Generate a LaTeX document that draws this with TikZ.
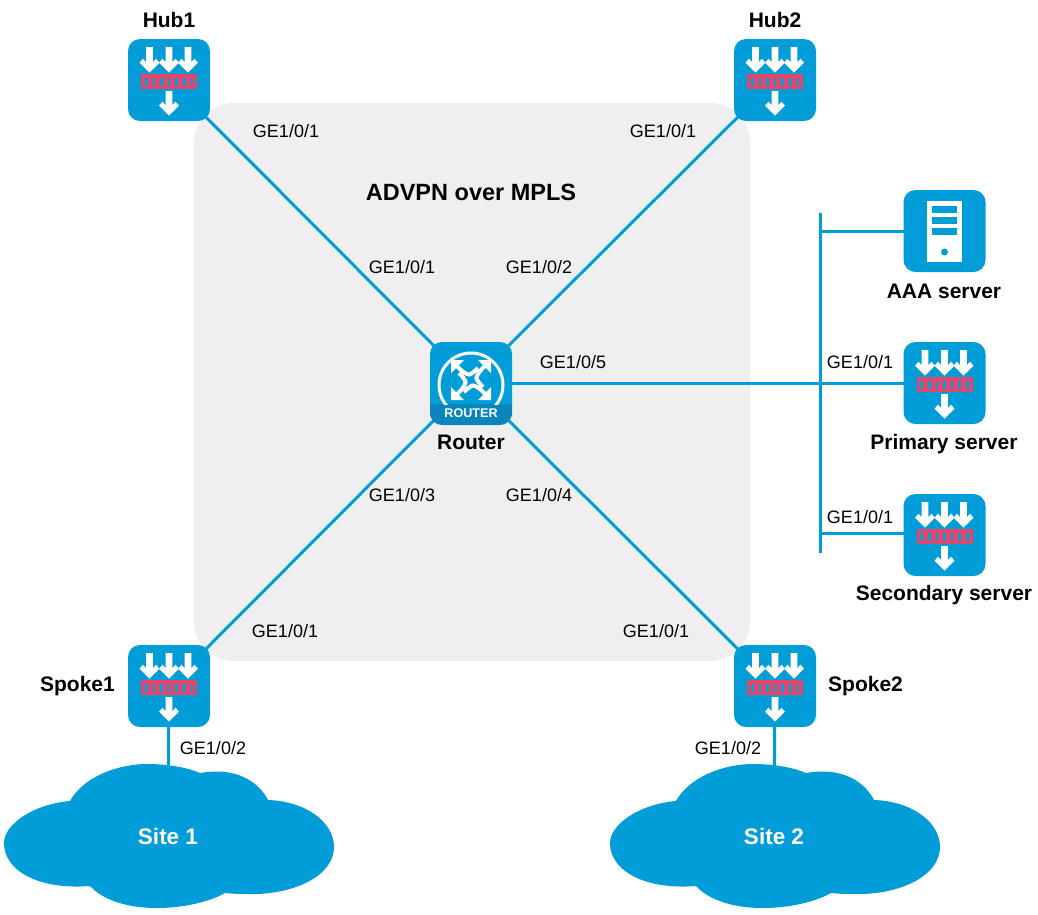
\documentclass[tikz,border=0pt]{standalone}
\usepackage{fontspec}
\setmainfont{Liberation Sans}
\usetikzlibrary{backgrounds}
\definecolor{iconblue}{HTML}{009DD9}
\definecolor{banddark}{HTML}{0A86BD}
\definecolor{barred}{HTML}{E4456A}
\definecolor{areagray}{HTML}{EFEFEF}
\tikzset{
    pics/downarrow/.style = {code = {
        \fill[white] (-3.4,#1) -- (3.4,#1) -- (3.4,-10.5) -- (6.5,-14) -- (10,-10) -- (0,0)
                     -- (-10,-10) -- (-6.5,-14) -- (-3.4,-10.5) -- cycle;
    }},
    pics/firewall/.style = {code = {
        \foreach \x in {-19.5,0,19}
            \pic at (\x,-7.3) {downarrow = -25.7};
        \pic at (0,35.7) {downarrow = -24.7};
        \fill[barred] (-28,-6) rectangle (28,9);
        \foreach \x in {-3,...,3}
            \fill[iconblue] (\x*7.6-1.3,-2.5) rectangle (\x*7.6+1.3,6);
    }},
    pics/server/.style = {code = {
        \fill[white] (-17.5,-30) rectangle (17.5,31);
        \foreach \y in {-25,-14,-3}
            \fill[iconblue] (-12.5,\y) rectangle (12.5,\y+6.5);
        \fill[iconblue] (0,21) circle (3.5);
    }},
    pics/router/.style = {code = {
        \fill[banddark, rounded corners = 12] (-41,21) rectangle (41,42);
        \fill[banddark] (-41,21) rectangle (41,30);
        \begin{scope}
            \clip (-41,-41) rectangle (41,21);
            \draw[white, line width = 3] (0,2) circle (32);
        \end{scope}
        \foreach \a in {0,90,180,270} {
            \begin{scope}[shift = {(0,-3)}, rotate = \a]
                \fill[white] (-20,-20) -- (-7,-20) -- (-20,-7) -- cycle;
                \draw[white, line width = 4] (-15,-15) .. controls (-8,-7) and (-3,-5) .. (-1.5,-5.5)
                    .. controls (1,-6.5) and (4,-9) .. (7,-12);
            \end{scope}
        }
    }},
    pics/cloud/.style = {code = {
        \fill[iconblue] (-165,7) .. controls (-165,-12) and (-135,-32) .. (-99,-35)
            .. controls (-85,-60) and (-50,-72) .. (-22,-72)
            .. controls (0,-72) and (20,-68) .. (31,-63)
            .. controls (37,-64) and (42,-64.5) .. (48,-64.5)
            .. controls (75,-64.5) and (92,-50) .. (99,-36)
            .. controls (135,-35) and (165,-15) .. (165,11)
            .. controls (165,40) and (125,58) .. (84,58)
            .. controls (74,58) and (65,58) .. (56,57)
            .. controls (40,66) and (14,72) .. (-12,72)
            .. controls (-40,72) and (-65,65) .. (-79,50)
            .. controls (-130,54) and (-165,35) .. (-165,7) -- cycle;
    }}
}
\begin{document}
\begin{tikzpicture}[
                    x = 1pt,
                    y = -1pt,
                    node distance = 606pt,
                    icon/.style = {fill = iconblue, rounded corners = 12, minimum size = 82pt, inner sep = 0},
                    link/.style = {draw = iconblue, line width = 3},
                    port/.style = {font = \fontsize{18}{18}\selectfont, inner sep = 0},
                    devname/.style = {font = \fontsize{21}{21}\selectfont\bfseries, inner sep = 0},
                    sitename/.style = {devname, text = white, font = \fontsize{22.5}{22.5}\selectfont\bfseries}]
    \useasboundingbox (0,0) rectangle (1038,914);

    % devices
    \node[icon]                    (hub1)   at (169,80)  {};
    \node[icon, right of = hub1]   (hub2)                {};
    \node[icon, below of = hub1]   (spoke1)              {};
    \node[icon, right of = spoke1] (spoke2)              {};
    \node[icon]                    (router) at (471,383) {};
    \node[icon]                    (aaa)    at (944.5,231) {};
    \node[icon]                    (primary)   at (944.5,383) {};
    \node[icon]                    (secondary) at (944.5,535) {};
    \pic at (hub1)      {firewall};
    \pic at (hub2)      {firewall};
    \pic at (spoke1)    {firewall};
    \pic at (spoke2)    {firewall};
    \pic at (primary)   {firewall};
    \pic at (secondary) {firewall};
    \pic at (aaa)       {server};
    \pic at (router)    {router};
    \node[white, font = \fontsize{12.6}{12.6}\selectfont\bfseries, inner sep = 0] (routertag) at (471,413) {ROUTER};

    % sites
    \pic at (169,836) {cloud};
    \pic at (775,836) {cloud};
    \node[sitename] (site1) at (168,836) {Site 1};
    \node[sitename] (site2) at (774,836) {Site 2};

    % bus
    \coordinate (bustop)    at (820,213);
    \coordinate (busbottom) at (820,552.5);
    \coordinate (busaaa)    at (820,231);
    \coordinate (busnext)   at (820,533);

    % links and the gray area
    \begin{scope}[on background layer]
        \fill[areagray, rounded corners = 40] (194,103) rectangle (750,661);
        \path[link]
        (hub1.center)    edge (router.center)
        (hub2.center)    edge (router.center)
        (spoke1.center)  edge (router.center)
        (spoke2.center)  edge (router.center)
        (router.center)  edge (primary.center)
        (spoke1.center)  edge (site1.center)
        (spoke2.center)  edge (site2.center)
        (bustop)         edge (busbottom)
        (busaaa)         edge (aaa.center)
        (busnext)        edge (secondary.center |- busnext)
        ;
    \end{scope}

    % texts
    \node[devname] (hub1name)      at (169,20)  {Hub1};
    \node[devname] (hub2name)      at (775,20)  {Hub2};
    \node[devname] (routername)    at (471,442) {Router};
    \node[devname] (spoke1name)    at (77.5,686) {Spoke1};
    \node[devname] (spoke2name)    at (865.5,686) {Spoke2};
    \node[devname] (aaaname)       at (944,291) {AAA server};
    \node[devname] (primaryname)   at (944,444) {Primary server};
    \node[devname] (secondaryname) at (944,595) {Secondary server};
    \node[devname, font = \fontsize{23.5}{23.5}\selectfont\bfseries] (areaname) at (471,192) {ADVPN over MPLS};

    \node[port] (hub1port)    at (286,131) {GE1/0/1};
    \node[port] (hub2port)    at (663,131) {GE1/0/1};
    \node[port] (routerport1) at (402,267) {GE1/0/1};
    \node[port] (routerport2) at (539,267) {GE1/0/2};
    \node[port] (routerport3) at (402,495) {GE1/0/3};
    \node[port] (routerport4) at (539,495) {GE1/0/4};
    \node[port] (routerport5) at (573,362) {GE1/0/5};
    \node[port] (primaryport) at (860,362) {GE1/0/1};
    \node[port] (secondport)  at (860,517) {GE1/0/1};
    \node[port] (spoke1wan)   at (285,631) {GE1/0/1};
    \node[port] (spoke2wan)   at (656,631) {GE1/0/1};
    \node[port] (spoke1lan)   at (213,748) {GE1/0/2};
    \node[port] (spoke2lan)   at (728,748) {GE1/0/2};
\end{tikzpicture}
\end{document}
